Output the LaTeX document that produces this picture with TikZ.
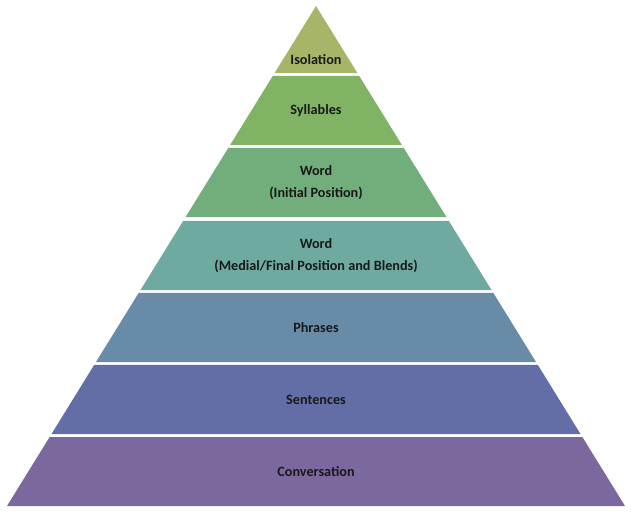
\documentclass[tikz,border=0pt]{standalone}
\usepackage{fontspec}
\setmainfont{Carlito}
\usetikzlibrary{calc}
\definecolor{cIso}{RGB}{166,181,104}
\definecolor{cSyl}{RGB}{128,180,100}
\definecolor{cWI}{RGB}{114,174,124}
\definecolor{cWM}{RGB}{111,170,160}
\definecolor{cPhr}{RGB}{104,140,168}
\definecolor{cSen}{RGB}{98,110,165}
\definecolor{cCon}{RGB}{123,104,158}
\tikzset{
  lbl/.style={font=\fontsize{14.2}{22}\selectfont\bfseries, text=black!90, align=center, inner sep=0pt},
}
\begin{document}
\begin{tikzpicture}[x=1pt,y=-1pt]
\useasboundingbox (0,0) rectangle (631,519);
\coordinate (A) at (316,6);
\coordinate (L) at (7,506);
\coordinate (R) at (625,506);
\foreach \yt/\yb/\col in {6/73/cIso, 76/145/cSyl, 148/217/cWI, 221/290/cWM, 293/362/cPhr, 365/434/cSen, 437/506/cCon}{
  \pgfmathsetmacro{\ft}{(\yt-6)/500}
  \pgfmathsetmacro{\fb}{(\yb-6)/500}
  \fill[\col] ($(A)!\ft!(L)$) -- ($(A)!\fb!(L)$) -- ($(A)!\fb!(R)$) -- ($(A)!\ft!(R)$) -- cycle;
}
\node[lbl] (iso) at (316,60) {Isolation};
\node[lbl] (syl) at (316,111) {Syllables};
\node[lbl] (wi) at (316,183) {Word\\(Initial Position)};
\node[lbl] (wm) at (316,256) {Word\\(Medial/Final Position and Blends)};
\node[lbl] (phr) at (316,328) {Phrases};
\node[lbl] (sen) at (316,400) {Sentences};
\node[lbl] (con) at (316,472) {Conversation};
\end{tikzpicture}
\end{document}
